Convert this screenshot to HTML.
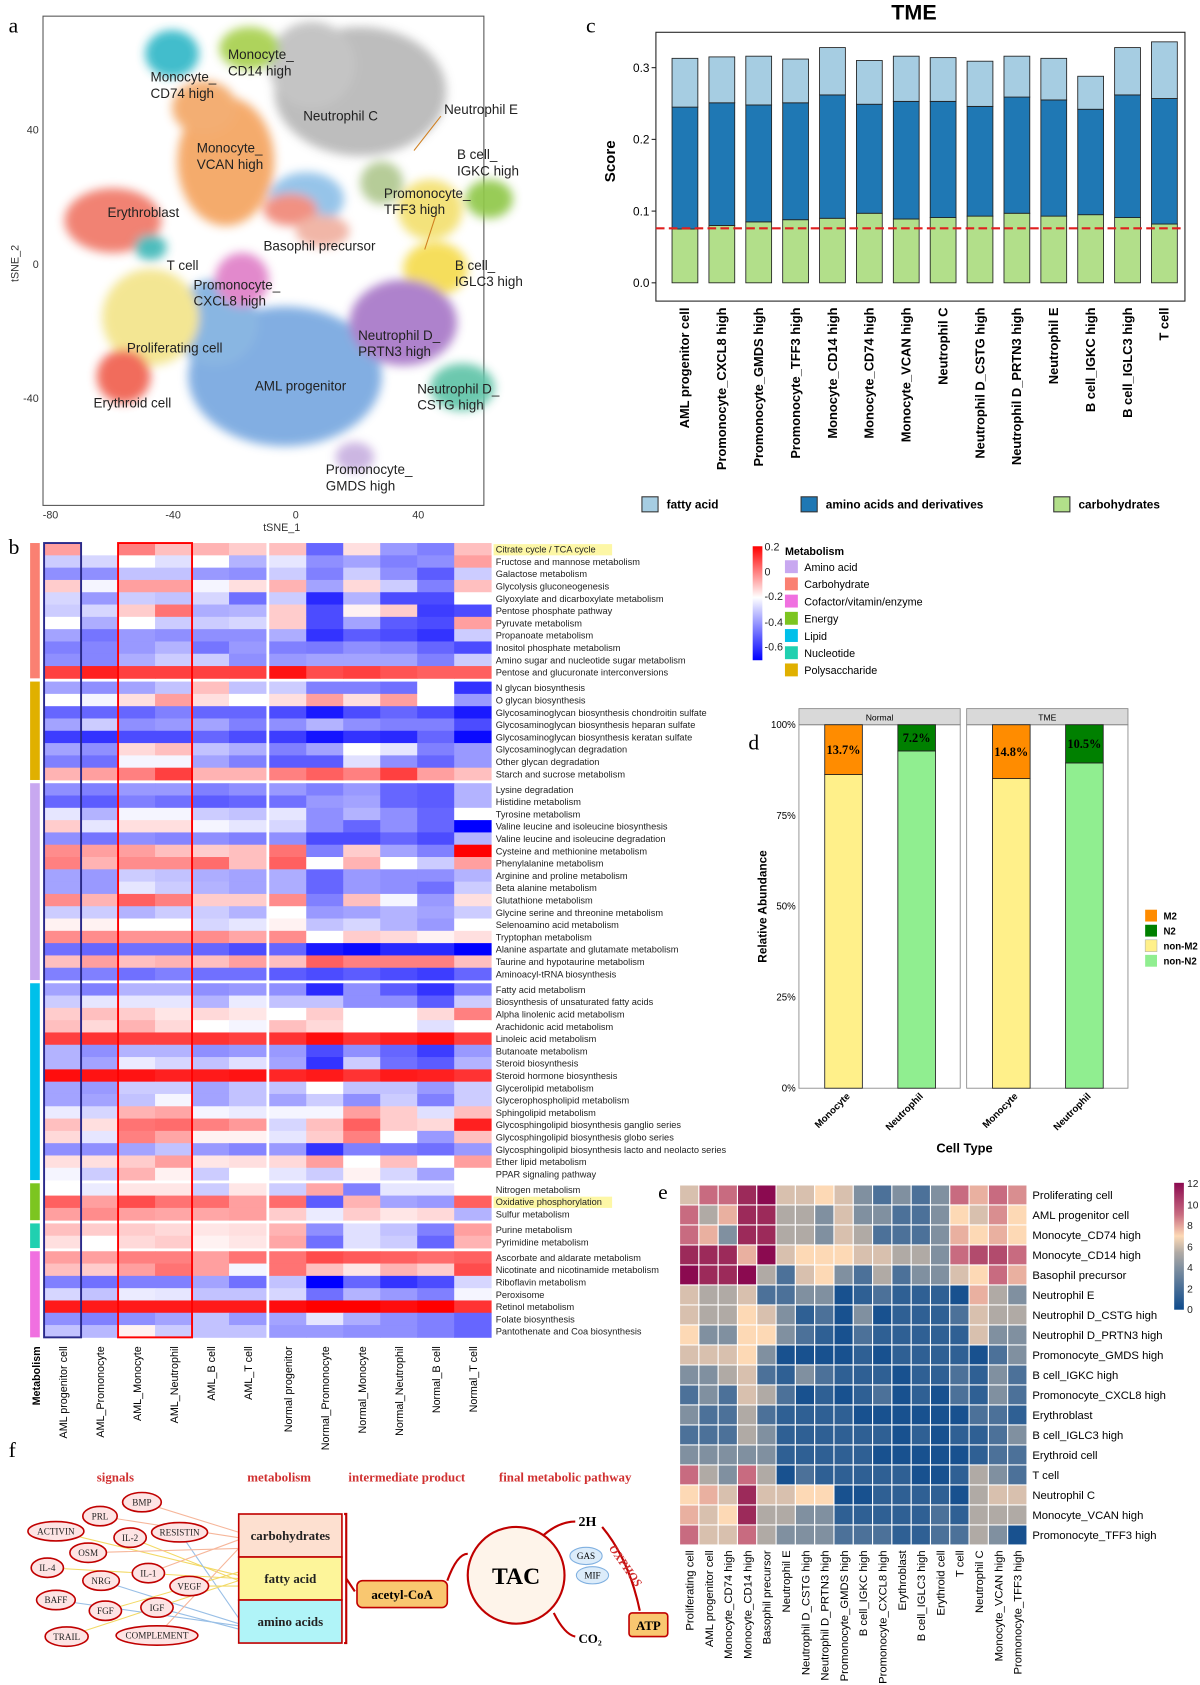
<!DOCTYPE html>
<html><head><meta charset="utf-8"><style>
html,body{margin:0;padding:0;background:#fff;}
svg{display:block;font-family:"Liberation Sans",sans-serif;}
.ser{font-family:"Liberation Serif",serif;}
</style></head><body>
<svg id="fig" width="1200" height="1685" viewBox="0 0 1116 1567" xmlns="http://www.w3.org/2000/svg">
<defs><filter id="blur" x="-30%" y="-30%" width="160%" height="160%"><feGaussianBlur stdDeviation="4.5"/></filter></defs>
<rect width="1116" height="1567" fill="#fff"/>

<!-- Panel a -->
<g>
<text x="8" y="30" font-size="20" class="ser">a</text>
<rect x="40" y="15" width="410" height="455" fill="#fff" stroke="#555" stroke-width="1"/>
<g filter="url(#blur)" opacity="0.92">
<ellipse cx="335" cy="85" rx="80" ry="60" fill="#b8b8b8"/>
<ellipse cx="290" cy="60" rx="40" ry="40" fill="#c0c0c0"/>
<ellipse cx="265" cy="350" rx="90" ry="65" fill="#78a8e0"/>
<ellipse cx="200" cy="300" rx="40" ry="40" fill="#80b0e0"/>
<ellipse cx="285" cy="185" rx="35" ry="25" fill="#8ec0e8"/>
<ellipse cx="232" cy="45" rx="28" ry="20" fill="#a8d050"/>
<ellipse cx="160" cy="50" rx="25" ry="22" fill="#30b8c8"/>
<ellipse cx="210" cy="150" rx="45" ry="60" fill="#f4a460"/>
<ellipse cx="190" cy="100" rx="30" ry="25" fill="#f3a868"/>
<ellipse cx="105" cy="205" rx="45" ry="30" fill="#f07868"/>
<ellipse cx="270" cy="195" rx="25" ry="15" fill="#f08878"/>
<ellipse cx="300" cy="215" rx="25" ry="15" fill="#f0b0a0"/>
<ellipse cx="455" cy="185" rx="22" ry="18" fill="#90c848"/>
<ellipse cx="400" cy="195" rx="30" ry="28" fill="#f3e070"/>
<ellipse cx="355" cy="170" rx="20" ry="20" fill="#b0c890"/>
<ellipse cx="140" cy="230" rx="15" ry="12" fill="#40b8b8"/>
<ellipse cx="225" cy="260" rx="25" ry="25" fill="#e080c8"/>
<ellipse cx="140" cy="295" rx="45" ry="45" fill="#f3e48a"/>
<ellipse cx="405" cy="250" rx="30" ry="25" fill="#f5dc50"/>
<ellipse cx="375" cy="300" rx="50" ry="40" fill="#a878c8"/>
<ellipse cx="115" cy="350" rx="25" ry="25" fill="#f06050"/>
<ellipse cx="430" cy="360" rx="30" ry="22" fill="#60c4a8"/>
<ellipse cx="330" cy="425" rx="18" ry="14" fill="#c8b0e0"/>
</g>
<g font-size="12.5" fill="#222">
<text x="212" y="55">Monocyte_</text><text x="212" y="70">CD14 high</text>
<text x="140" y="76">Monocyte_</text><text x="140" y="91">CD74 high</text>
<text x="282" y="112">Neutrophil C</text>
<text x="413" y="106">Neutrophil E</text>
<text x="425" y="148">B cell_</text><text x="425" y="163">IGKC high</text>
<text x="183" y="142">Monocyte_</text><text x="183" y="157">VCAN high</text>
<text x="357" y="184">Promonocyte_</text><text x="357" y="199">TFF3 high</text>
<text x="100" y="202">Erythroblast</text>
<text x="245" y="233">Basophil precursor</text>
<text x="155" y="251">T cell</text>
<text x="180" y="269">Promonocyte_</text><text x="180" y="284">CXCL8 high</text>
<text x="423" y="251">B cell_</text><text x="423" y="266">IGLC3 high</text>
<text x="118" y="328">Proliferating cell</text>
<text x="333" y="316">Neutrophil D_</text><text x="333" y="331">PRTN3 high</text>
<text x="237" y="363">AML progenitor</text>
<text x="388" y="366">Neutrophil D_</text><text x="388" y="381">CSTG high</text>
<text x="87" y="379">Erythroid cell</text>
<text x="303" y="441">Promonocyte_</text><text x="303" y="456">GMDS high</text>
</g>
<line x1="410" y1="108" x2="385" y2="140" stroke="#d08020"/>
<line x1="405" y1="201" x2="395" y2="232" stroke="#d08020"/>
<g font-size="10" fill="#333">
<text x="47" y="482" text-anchor="middle">-80</text><text x="161" y="482" text-anchor="middle">-40</text>
<text x="275" y="482" text-anchor="middle">0</text><text x="389" y="482" text-anchor="middle">40</text>
<text x="36" y="124" text-anchor="end">40</text><text x="36" y="249" text-anchor="end">0</text><text x="36" y="374" text-anchor="end">-40</text>
<text x="262" y="494" text-anchor="middle" font-size="10">tSNE_1</text>
<text transform="translate(17,245) rotate(-90)" text-anchor="middle" font-size="10">tSNE_2</text>
</g>
</g>

<!-- Panel c -->
<g id="pc">
<text x="545" y="30" font-size="20" class="ser">c</text>
<text x="850" y="18" font-size="20" font-weight="bold" text-anchor="middle">TME</text>
<rect x="610" y="30" width="492" height="250" fill="none" stroke="#222"/>
<text transform="translate(572,150) rotate(-90)" font-size="14" font-weight="bold" text-anchor="middle">Score</text>
<g font-size="11" font-weight="bold">
<rect x="597" y="462" width="15" height="14" fill="#a6cde2" stroke="#333"/><text x="620" y="473">fatty acid</text>
<rect x="745" y="462" width="15" height="14" fill="#1f78b4" stroke="#333"/><text x="768" y="473">amino acids and derivatives</text>
<rect x="980" y="462" width="15" height="14" fill="#b2df8a" stroke="#333"/><text x="1003" y="473">carbohydrates</text>
</g>
</g>

<!-- Panel b -->
<g id="pb">
<text x="8" y="515" font-size="20" class="ser">b</text>
<g>
<defs><linearGradient id="hg" x1="0" y1="0" x2="0" y2="1">
<stop offset="0" stop-color="#ff0000"/><stop offset="0.45" stop-color="#ffffff"/><stop offset="1" stop-color="#0000ff"/></linearGradient></defs>
<rect x="700" y="508" width="9" height="106" fill="url(#hg)"/>
<g font-size="10" fill="#222"><text x="711" y="512">0.2</text><text x="711" y="535">0</text><text x="711" y="558">-0.2</text><text x="711" y="582">-0.4</text><text x="711" y="605">-0.6</text></g>
</g>
<g font-size="10">
<text x="730" y="516" font-weight="bold">Metabolism</text>
<rect x="730" y="521" width="12" height="12" fill="#c8a8f0"/><text x="748" y="531">Amino acid</text>
<rect x="730" y="537" width="12" height="12" fill="#fa8072"/><text x="748" y="547">Carbohydrate</text>
<rect x="730" y="553" width="12" height="12" fill="#f070e0"/><text x="748" y="563">Cofactor/vitamin/enzyme</text>
<rect x="730" y="569" width="12" height="12" fill="#7cc520"/><text x="748" y="579">Energy</text>
<rect x="730" y="585" width="12" height="12" fill="#00c0ea"/><text x="748" y="595">Lipid</text>
<rect x="730" y="601" width="12" height="12" fill="#20d0b0"/><text x="748" y="611">Nucleotide</text>
<rect x="730" y="617" width="12" height="12" fill="#e0b000"/><text x="748" y="627">Polysaccharide</text>
</g>
</g>

<!-- Panel d -->
<g id="pd">
<text x="696" y="697" font-size="20" class="ser">d</text>
<text transform="translate(713,843) rotate(-90)" font-size="11" font-weight="bold" text-anchor="middle">Relative Abundance</text>
<text x="897" y="1072" font-size="12" font-weight="bold" text-anchor="middle">Cell Type</text>
<g font-size="9" font-weight="bold">
<rect x="1065" y="846" width="11" height="11" fill="#ff8c00"/><text x="1082" y="855">M2</text>
<rect x="1065" y="860" width="11" height="11" fill="#008000"/><text x="1082" y="869">N2</text>
<rect x="1065" y="874" width="11" height="11" fill="#fff08a" stroke="#aaa" stroke-width="0.5"/><text x="1082" y="883">non-M2</text>
<rect x="1065" y="888" width="11" height="11" fill="#90ee90"/><text x="1082" y="897">non-N2</text>
</g>
</g>

<!-- Panel e -->
<g id="pe">
<text x="612" y="1115" font-size="20" class="ser">e</text>
<g>
<defs><linearGradient id="eg" x1="0" y1="1" x2="0" y2="0">
<stop offset="0" stop-color="#0d4a8c"/><stop offset="0.33" stop-color="#8090a0"/><stop offset="0.45" stop-color="#b0aaa5"/><stop offset="0.58" stop-color="#fdd9b5"/><stop offset="0.75" stop-color="#c86b80"/><stop offset="1" stop-color="#8b0a50"/></linearGradient></defs>
<rect x="1092" y="1100" width="9" height="118" fill="url(#eg)"/>
<g font-size="9.5" fill="#222"><text x="1104" y="1104">12</text><text x="1104" y="1124">10</text><text x="1104" y="1143">8</text><text x="1104" y="1163">6</text><text x="1104" y="1182">4</text><text x="1104" y="1202">2</text><text x="1104" y="1221">0</text></g>
</g>
</g>

<!-- Panel f -->
<g class="ser">
<text x="8" y="1355" font-size="20">f</text>
<g font-size="12" font-weight="bold" fill="#d03030">
<text x="90" y="1378">signals</text><text x="230" y="1378">metabolism</text><text x="324" y="1378">intermediate product</text><text x="464" y="1378">final metabolic pathway</text>
</g>
<g stroke-width="1" opacity="0.8">
<line x1="132" y1="1397" x2="222" y2="1425" stroke="#f4a582"/><line x1="93" y1="1410" x2="222" y2="1430" stroke="#f4a582"/>
<line x1="52" y1="1424" x2="222" y2="1465" stroke="#f0d040"/><line x1="121" y1="1430" x2="222" y2="1470" stroke="#f0d040"/>
<line x1="167" y1="1425" x2="222" y2="1505" stroke="#80b0e0"/><line x1="82" y1="1444" x2="222" y2="1440" stroke="#f4a582"/>
<line x1="44" y1="1458" x2="222" y2="1468" stroke="#f0d040"/><line x1="94" y1="1470" x2="222" y2="1510" stroke="#80b0e0"/>
<line x1="138" y1="1463" x2="222" y2="1432" stroke="#f4a582"/><line x1="176" y1="1475" x2="222" y2="1475" stroke="#f0d040"/>
<line x1="146" y1="1495" x2="222" y2="1515" stroke="#80b0e0"/><line x1="98" y1="1498" x2="222" y2="1462" stroke="#f0d040"/>
<line x1="146" y1="1521" x2="222" y2="1440" stroke="#f4a582"/><line x1="62" y1="1522" x2="222" y2="1470" stroke="#f0d040"/>
<line x1="52" y1="1488" x2="222" y2="1512" stroke="#80b0e0"/>
</g>
<g fill="#fde4e4" stroke="#c00000" stroke-width="1.5">
<ellipse cx="132" cy="1397" rx="18" ry="9"/><ellipse cx="93" cy="1410" rx="16" ry="9"/><ellipse cx="52" cy="1424" rx="26" ry="9"/>
<ellipse cx="121" cy="1430" rx="15" ry="9"/><ellipse cx="167" cy="1425" rx="26" ry="9"/><ellipse cx="82" cy="1444" rx="17" ry="9"/>
<ellipse cx="44" cy="1458" rx="15" ry="9"/><ellipse cx="94" cy="1470" rx="17" ry="9"/><ellipse cx="138" cy="1463" rx="15" ry="9"/>
<ellipse cx="176" cy="1475" rx="18" ry="9"/><ellipse cx="52" cy="1488" rx="18" ry="9"/><ellipse cx="98" cy="1498" rx="15" ry="9"/>
<ellipse cx="146" cy="1495" rx="15" ry="9"/><ellipse cx="62" cy="1522" rx="20" ry="9"/><ellipse cx="146" cy="1521" rx="38" ry="9"/>
</g>
<g font-size="8.5" text-anchor="middle" fill="#222">
<text x="132" y="1400">BMP</text><text x="93" y="1413">PRL</text><text x="52" y="1427">ACTIVIN</text><text x="121" y="1433">IL-2</text>
<text x="167" y="1428">RESISTIN</text><text x="82" y="1447">OSM</text><text x="44" y="1461">IL-4</text><text x="94" y="1473">NRG</text>
<text x="138" y="1466">IL-1</text><text x="176" y="1478">VEGF</text><text x="52" y="1491">BAFF</text><text x="98" y="1501">FGF</text>
<text x="146" y="1498">IGF</text><text x="62" y="1525">TRAIL</text><text x="146" y="1524">COMPLEMENT</text>
</g>
<g stroke="#c00000" stroke-width="1.5" font-size="12" font-weight="bold">
<rect x="222" y="1408" width="96" height="40" fill="#fde0d0"/><rect x="222" y="1448" width="96" height="40" fill="#fdf59a"/><rect x="222" y="1488" width="96" height="40" fill="#b0f4f8"/>
<text x="270" y="1432" text-anchor="middle" stroke="none" fill="#222">carbohydrates</text>
<text x="270" y="1472" text-anchor="middle" stroke="none" fill="#222">fatty acid</text>
<text x="270" y="1512" text-anchor="middle" stroke="none" fill="#222">amino acids</text>
</g>
<path d="M320 1408 L322 1408 L322 1528 L320 1528 M322 1468 L330 1480" stroke="#c00000" stroke-width="2" fill="none"/>
<rect x="332" y="1470" width="84" height="25" rx="5" fill="#f9c770" stroke="#c00000" stroke-width="1.5"/>
<text x="374" y="1487" font-size="12" font-weight="bold" text-anchor="middle">acetyl-CoA</text>
<path d="M416 1470 Q425 1445 435 1445" stroke="#c00000" stroke-width="2" fill="none"/>
<circle cx="480" cy="1465" r="45" fill="#fef4ea" stroke="#c00000" stroke-width="2"/>
<text x="480" y="1473" font-size="22" font-weight="bold" text-anchor="middle">TAC</text>
<path d="M505 1428 Q520 1415 535 1415 M515 1500 Q525 1520 535 1522 M560 1420 Q585 1450 595 1498" stroke="#c00000" stroke-width="2" fill="none"/>
<text x="538" y="1419" font-size="13" font-weight="bold">2H</text>
<text transform="translate(566,1440) rotate(55)" font-size="11" font-weight="bold" font-style="italic" fill="#d03030">OXPHOS</text>
<ellipse cx="545" cy="1447" rx="15" ry="8" fill="#dcecfa" stroke="#80b0e0"/>
<text x="545" y="1450" font-size="8.5" text-anchor="middle">GAS</text>
<ellipse cx="551" cy="1465" rx="15" ry="8" fill="#dcecfa" stroke="#80b0e0"/>
<text x="551" y="1468" font-size="8.5" text-anchor="middle">MIF</text>
<text x="538" y="1528" font-size="12" font-weight="bold">CO₂</text>
<rect x="585" y="1500" width="36" height="22" rx="3" fill="#f9c770" stroke="#c00000" stroke-width="1.5"/>
<text x="603" y="1516" font-size="12" font-weight="bold" text-anchor="middle">ATP</text>
</g>
</svg>
<script>
const NS='http://www.w3.org/2000/svg';
function mk(parent,tag,attrs,txt){const e=document.createElementNS(NS,tag);for(const k in attrs)e.setAttribute(k,attrs[k]);if(txt!==undefined)e.textContent=txt;parent.appendChild(e);return e;}

/* ---------- Panel c data ---------- */
const tmeCells=['AML progenitor cell','Promonocyte_CXCL8 high','Promonocyte_GMDS high','Promonocyte_TFF3 high','Monocyte_CD14 high','Monocyte_CD74 high','Monocyte_VCAN high','Neutrophil C','Neutrophil D_CSTG high','Neutrophil D_PRTN3 high','Neutrophil E','B cell_IGKC high','B cell_IGLC3 high','T cell'];
const tmeCarb=[0.075,0.080,0.085,0.088,0.090,0.097,0.089,0.091,0.093,0.097,0.093,0.095,0.091,0.082];
const tmeAmino=[0.170,0.171,0.163,0.163,0.172,0.152,0.164,0.162,0.153,0.162,0.162,0.147,0.171,0.175];
const tmeFatty=[0.068,0.064,0.068,0.061,0.066,0.061,0.063,0.061,0.063,0.057,0.058,0.046,0.066,0.079];
const tmeTicks=[0,0.1,0.2,0.3];
const tmeThreshold=0.076;

const pc=document.getElementById('pc');
const cy=v=>263-v*667;
const cx=i=>637+i*34.3;
tmeTicks.forEach(t=>{
  const tk=mk(pc,'text',{x:604,y:cy(t)+4,'font-size':11,'text-anchor':'end'},t.toFixed(1));
  
  
  mk(pc,'line',{x1:606,x2:610,y1:cy(t),y2:cy(t),stroke:'#222'});
});
tmeCells.forEach((c,i)=>{
  const a=tmeCarb[i],b=a+tmeAmino[i],f=b+tmeFatty[i];
  const segs=[[0,a,'#b2df8a','carbohydrates'],[a,b,'#1f78b4','amino'],[b,f,'#a6cde2','fatty']];
  segs.forEach(s=>{
    const r=mk(pc,'rect',{x:cx(i)-12,y:cy(s[1]),width:24,height:cy(s[0])-cy(s[1]),fill:s[2],stroke:'#222','stroke-width':0.8});
    
    
  });
  const lb=mk(pc,'text',{transform:`translate(${cx(i)+4},286) rotate(-90)`,'font-size':12,'font-weight':'bold','text-anchor':'end'},c);
  
  
});
const thr=mk(pc,'line',{x1:610,x2:1102,y1:cy(tmeThreshold),y2:cy(tmeThreshold),stroke:'#e02020','stroke-width':2,'stroke-dasharray':'8,4'});



/* ---------- Panel b data ---------- */
const hmCols=['AML progenitor cell','AML_Promonocyte','AML_Monocyte','AML_Neutrophil','AML_B cell','AML_T cell','Normal progenitor','Normal_Promonocyte','Normal_Monocyte','Normal_Neutrophil','Normal_B cell','Normal_T cell'];
const hmRows=['Citrate cycle / TCA cycle','Fructose and mannose metabolism','Galactose metabolism','Glycolysis gluconeogenesis','Glyoxylate and dicarboxylate metabolism','Pentose phosphate pathway','Pyruvate metabolism','Propanoate metabolism','Inositol phosphate metabolism','Amino sugar and nucleotide sugar metabolism','Pentose and glucuronate interconversions',
'N glycan biosynthesis','O glycan biosynthesis','Glycosaminoglycan biosynthesis chondroitin sulfate','Glycosaminoglycan biosynthesis heparan sulfate','Glycosaminoglycan biosynthesis keratan sulfate','Glycosaminoglycan degradation','Other glycan degradation','Starch and sucrose metabolism',
'Lysine degradation','Histidine metabolism','Tyrosine metabolism','Valine leucine and isoleucine biosynthesis','Valine leucine and isoleucine degradation','Cysteine and methionine metabolism','Phenylalanine metabolism','Arginine and proline metabolism','Beta alanine metabolism','Glutathione metabolism','Glycine serine and threonine metabolism','Selenoamino acid metabolism','Tryptophan metabolism','Alanine aspartate and glutamate metabolism','Taurine and hypotaurine metabolism','Aminoacyl-tRNA biosynthesis',
'Fatty acid metabolism','Biosynthesis of unsaturated fatty acids','Alpha linolenic acid metabolism','Arachidonic acid metabolism','Linoleic acid metabolism','Butanoate metabolism','Steroid biosynthesis','Steroid hormone biosynthesis','Glycerolipid metabolism','Glycerophospholipid metabolism','Sphingolipid metabolism','Glycosphingolipid biosynthesis ganglio series','Glycosphingolipid biosynthesis globo series','Glycosphingolipid biosynthesis lacto and neolacto series','Ether lipid metabolism','PPAR signaling pathway',
'Nitrogen metabolism','Oxidative phosphorylation','Sulfur metabolism','Purine metabolism','Pyrimidine metabolism',
'Ascorbate and aldarate metabolism','Nicotinate and nicotinamide metabolism','Riboflavin metabolism','Peroxisome','Retinol metabolism','Folate biosynthesis','Pantothenate and Coa biosynthesis'];
const hmGroups=[['Carbohydrate',11,'#fa8072'],['Polysaccharide',8,'#e0b000'],['Amino acid',16,'#c8a8f0'],['Lipid',16,'#00c0ea'],['Energy',3,'#7cc520'],['Nucleotide',2,'#20d0b0'],['Cofactor',7,'#f070e0']];
const hmVals=[
[-0.05,-0.2,0,-0.1,-0.08,-0.12,-0.1,-0.5,-0.15,-0.4,-0.45,-0.1],
[-0.3,-0.28,-0.2,-0.26,-0.2,-0.35,-0.25,-0.42,-0.38,-0.45,-0.42,-0.05],
[-0.42,-0.42,-0.32,-0.32,-0.4,-0.42,-0.3,-0.45,-0.3,-0.42,-0.52,-0.3],
[-0.12,-0.22,-0.05,-0.05,-0.22,-0.15,-0.08,-0.38,-0.14,-0.3,-0.45,-0.1],
[-0.28,-0.4,-0.3,-0.32,-0.28,-0.48,-0.3,-0.62,-0.35,-0.55,-0.55,-0.2],
[-0.3,-0.28,-0.12,0.02,-0.36,-0.35,-0.12,-0.55,-0.18,-0.12,-0.58,-0.55],
[-0.2,-0.36,-0.2,-0.3,-0.3,-0.28,-0.12,-0.55,-0.38,-0.52,-0.55,-0.05],
[-0.38,-0.47,-0.4,-0.42,-0.42,-0.42,-0.36,-0.6,-0.52,-0.55,-0.6,-0.3],
[-0.45,-0.44,-0.4,-0.35,-0.47,-0.4,-0.45,-0.46,-0.42,-0.44,-0.5,-0.55],
[-0.42,-0.44,-0.36,-0.3,-0.3,-0.42,-0.4,-0.38,-0.38,-0.38,-0.45,-0.3],
[0.1,0.15,0.1,0.1,0.1,0.1,0.17,0.08,0.1,0.07,0.05,0.05],
[-0.38,-0.42,-0.38,-0.32,-0.1,-0.32,-0.3,-0.45,-0.45,-0.48,-0.2,-0.6],
[-0.2,-0.22,-0.15,-0.05,-0.15,-0.2,-0.15,-0.05,-0.15,-0.05,-0.2,-0.4],
[-0.5,-0.5,-0.5,-0.45,-0.5,-0.5,-0.55,-0.65,-0.55,-0.5,-0.55,-0.65],
[-0.38,-0.3,-0.42,-0.4,-0.38,-0.45,-0.42,-0.35,-0.42,-0.45,-0.45,-0.55],
[-0.58,-0.6,-0.55,-0.55,-0.5,-0.55,-0.58,-0.66,-0.6,-0.62,-0.5,-0.68],
[-0.38,-0.42,-0.14,-0.1,-0.32,-0.36,-0.45,-0.38,-0.2,-0.25,-0.45,-0.4],
[-0.45,-0.48,-0.22,-0.22,-0.38,-0.45,-0.52,-0.52,-0.26,-0.42,-0.5,-0.4],
[-0.08,-0.05,0,0.1,-0.08,-0.08,0,0.05,0,0.1,-0.05,-0.1],
[-0.42,-0.45,-0.4,-0.4,-0.45,-0.42,-0.4,-0.45,-0.4,-0.5,-0.52,-0.35],
[-0.5,-0.52,-0.45,-0.48,-0.52,-0.5,-0.48,-0.4,-0.38,-0.5,-0.52,-0.35],
[-0.25,-0.35,-0.22,-0.22,-0.3,-0.32,-0.25,-0.42,-0.35,-0.42,-0.5,-0.2],
[-0.12,-0.25,-0.15,-0.15,-0.22,-0.25,-0.28,-0.42,-0.5,-0.42,-0.5,-0.75],
[-0.42,-0.47,-0.42,-0.44,-0.42,-0.45,-0.42,-0.55,-0.55,-0.5,-0.55,-0.35],
[-0.02,-0.05,-0.05,-0.1,-0.12,-0.1,0.02,-0.45,-0.12,-0.38,-0.45,0.2],
[0,-0.08,-0.02,-0.02,0.03,-0.1,0.05,-0.2,-0.08,-0.2,-0.3,-0.05],
[-0.38,-0.4,-0.3,-0.32,-0.36,-0.38,-0.36,-0.5,-0.4,-0.42,-0.42,-0.35],
[-0.38,-0.4,-0.25,-0.3,-0.35,-0.38,-0.36,-0.5,-0.4,-0.42,-0.48,-0.3],
[-0.02,-0.08,0.05,0,-0.12,-0.12,-0.02,-0.45,-0.1,-0.22,-0.4,-0.15],
[-0.3,-0.3,-0.35,-0.3,-0.3,-0.35,-0.2,-0.4,-0.38,-0.35,-0.38,-0.3],
[-0.18,-0.18,-0.2,-0.2,-0.28,-0.25,-0.18,-0.32,-0.28,-0.35,-0.4,-0.2],
[-0.02,-0.02,-0.03,-0.03,-0.02,-0.06,-0.02,-0.2,-0.12,-0.14,-0.18,-0.15],
[-0.48,-0.5,-0.48,-0.48,-0.5,-0.55,-0.5,-0.65,-0.68,-0.62,-0.62,-0.7],
[-0.1,-0.05,-0.1,-0.08,-0.1,-0.05,-0.1,0.05,0,0,0,-0.1],
[-0.45,-0.45,-0.48,-0.45,-0.48,-0.48,-0.52,-0.55,-0.52,-0.55,-0.58,-0.5],
[-0.38,-0.45,-0.35,-0.35,-0.42,-0.4,-0.42,-0.62,-0.42,-0.52,-0.6,-0.45],
[-0.3,-0.25,-0.25,-0.25,-0.35,-0.24,-0.32,-0.32,-0.42,-0.42,-0.52,-0.3],
[-0.12,-0.1,-0.12,-0.16,-0.14,-0.16,-0.2,-0.12,-0.2,-0.2,-0.14,0],
[-0.1,-0.14,-0.08,-0.14,-0.2,-0.22,-0.1,-0.14,-0.2,-0.2,-0.26,-0.2],
[0.1,0.12,0.1,0.1,0.12,0.1,0.12,0.18,0.12,0.15,0.18,0.1],
[-0.35,-0.42,-0.35,-0.35,-0.42,-0.4,-0.4,-0.55,-0.42,-0.5,-0.58,-0.4],
[-0.35,-0.38,-0.24,-0.28,-0.32,-0.26,-0.38,-0.6,-0.3,-0.48,-0.52,-0.35],
[0.18,0.17,0.17,0.15,0.16,0.17,0.14,0.16,0.12,0.16,0.15,0.12],
[-0.38,-0.4,-0.3,-0.3,-0.38,-0.32,-0.32,-0.2,-0.32,-0.32,-0.4,-0.3],
[-0.38,-0.38,-0.32,-0.22,-0.38,-0.32,-0.38,-0.3,-0.42,-0.3,-0.45,-0.3],
[-0.24,-0.28,-0.08,-0.06,-0.22,-0.24,-0.22,-0.22,-0.05,-0.12,-0.26,-0.1],
[-0.1,-0.15,0.02,0.03,0,-0.04,-0.28,-0.1,0.05,-0.12,-0.14,0.15],
[-0.14,-0.25,0,-0.06,-0.18,-0.18,-0.25,-0.12,0,-0.2,-0.4,-0.1],
[-0.42,-0.42,-0.38,-0.32,-0.4,-0.44,-0.4,-0.6,-0.45,-0.46,-0.48,-0.4],
[-0.15,-0.15,-0.12,-0.05,-0.16,-0.15,-0.14,-0.05,-0.2,-0.1,-0.2,-0.05],
[-0.22,-0.3,-0.08,-0.18,-0.3,-0.2,-0.25,-0.3,-0.18,-0.28,-0.38,-0.2],
[-0.2,-0.24,-0.16,-0.16,-0.3,-0.16,-0.3,-0.06,-0.45,-0.25,-0.25,-0.2],
[0.05,-0.05,0.08,0.02,0.03,-0.05,0.03,-0.52,-0.08,-0.38,-0.4,0.05],
[-0.05,-0.02,-0.05,-0.06,-0.06,-0.05,-0.12,-0.24,-0.12,-0.16,-0.14,-0.35],
[-0.1,-0.12,-0.12,-0.14,-0.16,-0.15,-0.08,-0.42,-0.26,-0.32,-0.45,-0.05],
[-0.15,-0.2,-0.14,-0.12,-0.18,-0.16,-0.06,-0.48,-0.26,-0.3,-0.5,-0.08],
[-0.05,-0.05,0,0,-0.05,0.02,0.02,0.08,0.06,0.05,0.03,0.05],
[-0.1,-0.12,-0.05,0.02,-0.05,-0.22,0.02,-0.1,-0.16,-0.08,-0.12,0.08],
[-0.45,-0.48,-0.45,-0.45,-0.38,-0.48,-0.32,-0.7,-0.5,-0.6,-0.55,-0.28],
[-0.28,-0.32,-0.24,-0.25,-0.32,-0.32,-0.28,-0.48,-0.35,-0.4,-0.45,-0.22],
[0.16,0.16,0.16,0.16,0.16,0.16,0.18,0.2,0.2,0.18,0.2,0.12],
[-0.42,-0.45,-0.42,-0.38,-0.32,-0.4,-0.38,-0.25,-0.36,-0.42,-0.45,-0.5],
[-0.32,-0.34,-0.18,-0.3,-0.32,-0.32,-0.4,-0.4,-0.42,-0.42,-0.45,-0.5]];

const pb=document.getElementById('pb');
const HX0=41,HY0=505,CW=34.4,RH=11.44;
const hx=j=>HX0+j*CW+(j>=6?3:0);
const rowGroup=[];hmGroups.forEach((g,gi)=>{for(let k=0;k<g[1];k++)rowGroup.push(gi);});
const hy=i=>HY0+i*RH+rowGroup[i]*3;
function hcol(v){let r,g,b;if(v>=-0.2){const t=Math.min(1,(v+0.2)/0.4);r=255;g=b=Math.round(255*(1-t));}else{const t=Math.min(1,(-0.2-v)/0.5);r=g=Math.round(255*(1-t));b=255;}return `rgb(${r},${g},${b})`;}
hmVals.forEach((row,i)=>{
  row.forEach((v,j)=>{
    const c=mk(pb,'rect',{x:hx(j),y:hy(i),width:CW+0.4,height:RH+0.4,fill:hcol(v)});
    
    
  });
  const lab=hmRows[i];
  if(i===0||i===52){mk(pb,'rect',{x:459,y:hy(i)+1,width:lab.length*4.25+4,height:RH-1,fill:'#fdf7a6'});}
  const t=mk(pb,'text',{x:461,y:hy(i)+RH-2.5,'font-size':8.6,fill:'#222'},lab);
  
  
});
let gy=0;
hmGroups.forEach(g=>{
  const y0=hy(gy),y1=hy(gy+g[1]-1)+RH;
  const bar=mk(pb,'rect',{x:28,y:y0,width:9,height:y1-y0,fill:g[2]});
  
  
  gy+=g[1];
});
hmCols.forEach((c,j)=>{
  const t=mk(pb,'text',{transform:`translate(${hx(j)+CW/2+4},1252) rotate(-90)`,'font-size':10,'text-anchor':'end'},c);
  
  
});
{const t=mk(pb,'text',{transform:'translate(37,1252) rotate(-90)','font-size':10,'font-weight':'bold','text-anchor':'end'},'Metabolism');

}
const yTop=HY0,yBot=hy(62)+RH;
{const b1=mk(pb,'rect',{x:hx(0),y:yTop,width:CW,height:yBot-yTop,fill:'none',stroke:'#2a2a8a','stroke-width':1.8});


const b2=mk(pb,'rect',{x:hx(2),y:yTop,width:2*CW,height:yBot-yTop,fill:'none',stroke:'#ff0000','stroke-width':1.8});

}

/* ---------- Panel d data ---------- */
const abFacets=['Normal','TME'];
const abTypes=['Monocyte','Neutrophil'];
const abPolar=[[13.7,7.2],[14.8,10.5]];
const abTicks=[0,25,50,75,100];
const pd=document.getElementById('pd');
const dy=v=>1012-v*3.38;
const facetX=[743,899],FW=150;
abTicks.forEach(t=>{
  const tk=mk(pd,'text',{x:740,y:dy(t)+3,'font-size':9,'text-anchor':'end'},t+'%');
  
  
});
abFacets.forEach((f,fi)=>{
  const x0=facetX[fi];
  const h=mk(pd,'rect',{x:x0,y:659,width:FW,height:15,fill:'#d9d9d9',stroke:'#888','stroke-width':0.8});
  
  
  mk(pd,'text',{x:x0+FW/2,y:670,'font-size':8,'text-anchor':'middle'},f);
  mk(pd,'rect',{x:x0,y:674,width:FW,height:338,fill:'none',stroke:'#888','stroke-width':0.8});
  abTypes.forEach((t,ti)=>{
    const bx=x0+24+ti*68, p=abPolar[fi][ti];
    const lo=ti===0?'#fff08a':'#90ee90', hi=ti===0?'#ff8c00':'#008000';
    const r1=mk(pd,'rect',{x:bx,y:dy(100-p),width:35,height:dy(0)-dy(100-p),fill:lo,stroke:'#222','stroke-width':0.8});
    
    
    const r2=mk(pd,'rect',{x:bx,y:dy(100),width:35,height:dy(100-p)-dy(100),fill:hi,stroke:'#222','stroke-width':0.8});
    
    
    const pl=mk(pd,'text',{x:bx+17.5,y:dy(100-p/2)+4,'font-size':11.5,'font-weight':'bold','text-anchor':'middle','font-family':'Liberation Serif,serif'},p.toFixed(1)+'%');
    
    
    const xl=mk(pd,'text',{transform:`translate(${bx+24},1020) rotate(-45)`,'font-size':9,'font-weight':'bold','text-anchor':'end'},t);
    
    
  });
});

/* ---------- Panel e data ---------- */
const eRows=['Proliferating cell','AML progenitor cell','Monocyte_CD74 high','Monocyte_CD14 high','Basophil precursor','Neutrophil E','Neutrophil D_CSTG high','Neutrophil D_PRTN3 high','Promonocyte_GMDS high','B cell_IGKC high','Promonocyte_CXCL8 high','Erythroblast','B cell_IGLC3 high','Erythroid cell','T cell','Neutrophil C','Monocyte_VCAN high','Promonocyte_TFF3 high'];
const eCols=['Proliferating cell','AML progenitor cell','Monocyte_CD74 high','Monocyte_CD14 high','Basophil precursor','Neutrophil E','Neutrophil D_CSTG high','Neutrophil D_PRTN3 high','Promonocyte_GMDS high','B cell_IGKC high','Promonocyte_CXCL8 high','Erythroblast','B cell_IGLC3 high','Erythroid cell','T cell','Neutrophil C','Monocyte_VCAN high','Promonocyte_TFF3 high'];
const eVals=[
[6,9,9,11,12,6,6,7,6,4,2.5,4,2.5,4,9,8,9,8.5],
[9,5,8,11,11,5,5,4,6,4,4,2.5,2.5,4,7,6,8.5,7],
[9,8,4,11,11,5,5,4,6,5,2.5,2.5,2.5,4,8,7,8,7],
[11,11,11,8,12,6,7,7,7,6,6,5,5,4,9,10,10,9],
[12,11,11,12,5,2.5,6,7,4,2.5,5,2.5,4,4,6,7,9,8],
[6,5,5,6,2.5,2.5,4,4,0.5,1.5,2.5,1.5,1.5,1.5,0.5,8,5,4],
[6,5,5,7,6,4,1.5,2.5,0.5,4,0.5,1.5,1.5,1.5,2.5,6,5,5],
[7,4,4,7,7,4,2.5,1.5,0.5,2.5,1.5,1.5,1.5,1.5,1.5,6,4,4],
[6,6,6,7,4,0.5,0.5,0.5,0.5,1.5,0.5,1.5,1.5,1.5,1.5,0.5,2.5,4],
[4,4,5,6,2.5,1.5,4,2.5,1.5,1.5,1.5,0.5,1.5,1.5,2.5,1.5,4,2.5],
[2.5,4,2.5,6,5,2.5,0.5,1.5,0.5,1.5,2.5,0.5,1.5,0.5,2.5,1.5,4,2.5],
[4,2.5,2.5,5,2.5,1.5,1.5,1.5,1.5,0.5,0.5,0.5,0.5,0.5,0.5,2.5,2.5,1.5],
[2.5,2.5,2.5,5,4,1.5,1.5,1.5,1.5,1.5,1.5,0.5,1.5,0.5,1.5,1.5,2.5,4],
[4,4,4,4,4,1.5,1.5,1.5,1.5,1.5,0.5,0.5,0.5,0.5,0.5,1.5,2.5,2.5],
[9,5,4,9,5,0.5,2.5,1.5,1.5,1.5,1.5,1.5,0.5,0.5,1.5,5,4,2.5],
[7,8,6,11,6,6,7,7,0.5,0.5,1.5,1.5,1.5,1.5,0.5,5,6,6],
[8,6,7,11,5,5,4,4,1.5,1.5,1.5,1.5,1.5,2.5,1.5,5,5,5],
[9,6,6,9,5,4,4,4,2.5,2.5,2.5,1.5,1.5,2.5,2.5,5,4,0.5]];
const pe=document.getElementById('pe');
const EX0=632,EY0=1102,ECW=17.95,ERH=18.6;
const eStops=[[0,[13,74,140]],[2,[58,103,150]],[4,[128,144,160]],[5,[176,170,165]],[6,[216,192,174]],[7,[253,217,181]],[8,[233,176,160]],[9,[200,107,128]],[11,[156,42,90]],[12,[139,10,80]]];
function ecol(v){for(let k=1;k<eStops.length;k++){if(v<=eStops[k][0]){const a=eStops[k-1],b=eStops[k],t=(v-a[0])/(b[0]-a[0]);const c=a[1].map((x,m)=>Math.round(x+(b[1][m]-x)*t));return `rgb(${c})`;}}return 'rgb(139,10,80)';}
eVals.forEach((row,i)=>{
  row.forEach((v,j)=>{
    const c=mk(pe,'rect',{x:EX0+j*ECW,y:EY0+i*ERH,width:ECW,height:ERH,fill:ecol(v),stroke:'#fff','stroke-width':1});
    
    
  });
  const t=mk(pe,'text',{x:EX0+18*ECW+5,y:EY0+i*ERH+13,'font-size':10.5},eRows[i]);
  
  
});
eCols.forEach((c,j)=>{
  const t=mk(pe,'text',{transform:`translate(${EX0+j*ECW+ECW/2+4},${EY0+18*ERH+5}) rotate(-90)`,'font-size':10.5,'text-anchor':'end'},c);
  
  
});
</script>
</body></html>
